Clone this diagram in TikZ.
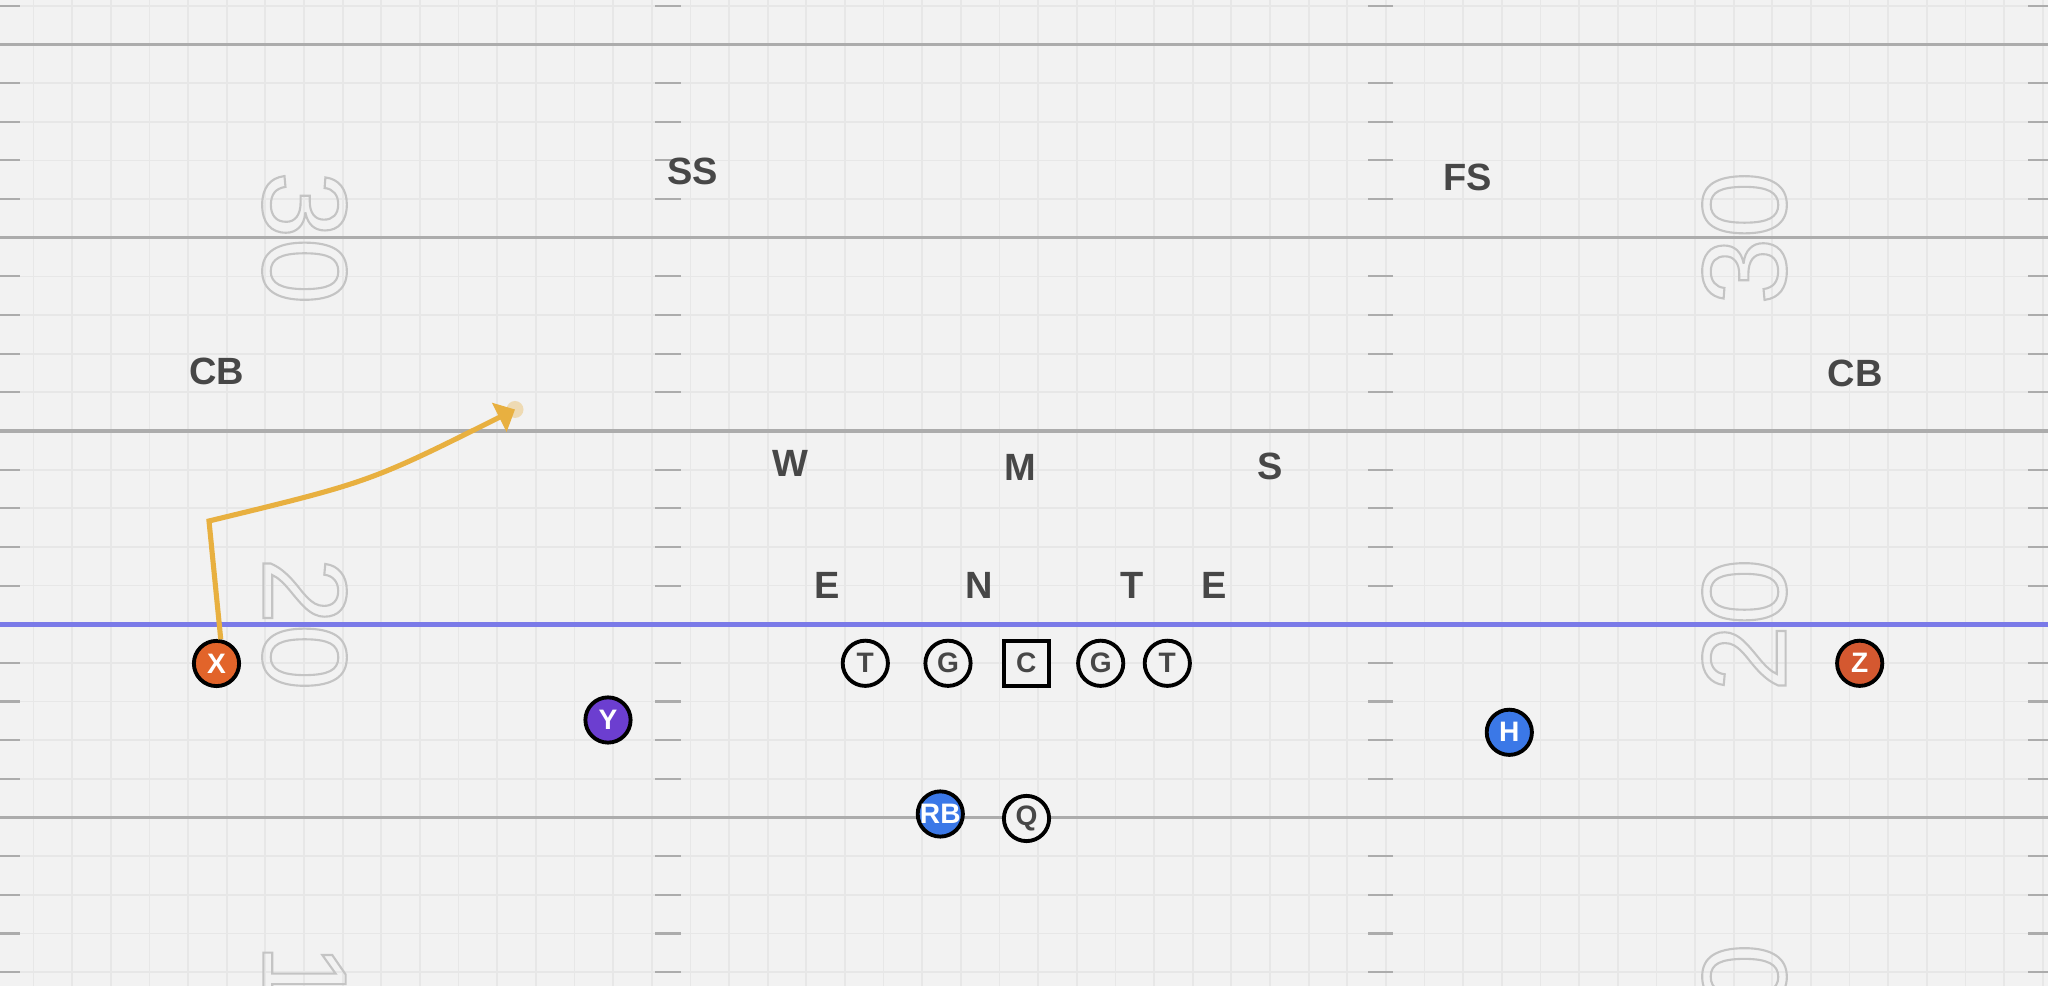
\documentclass[tikz,border=0pt]{standalone}
\usepackage{fontspec}
\setmainfont{Liberation Sans}
\usepackage{tikz}
\usetikzlibrary{arrows.meta}
\definecolor{field}{RGB}{242,242,242}
\definecolor{gridcol}{RGB}{231,231,231}
\definecolor{yardcol}{RGB}{172,172,172}
\definecolor{scrimmage}{RGB}{122,122,232}
\definecolor{labelgray}{RGB}{71,71,71}
\definecolor{routecol}{RGB}{232,176,64}
\definecolor{xorange}{RGB}{226,100,42}
\definecolor{zorange}{RGB}{212,88,48}
\definecolor{ypurple}{RGB}{108,62,208}
\definecolor{hblue}{RGB}{59,120,231}
\newcommand{\outlined}[1]{\special{pdf:literal direct 1 Tr 0.6 w 0.77 0.77 0.77 RG}#1\special{pdf:literal direct 0 Tr}}

\begin{document}
\begin{tikzpicture}[x=0.01cm,y=-0.01cm]
		\tikzstyle{gridln}=[draw=gridcol, line width=0.5pt]
		\tikzstyle{hash}=[draw=yardcol, line width=0.6pt]
		\tikzstyle{yard}=[draw=yardcol, line width=0.9pt]
		\tikzstyle{num}=[inner sep=0pt, font=\fontsize{34}{34}\selectfont]
		\tikzstyle{defender}=[inner sep=0pt, text=labelgray, font=\fontsize{10.8}{11}\selectfont\bfseries]
		\tikzstyle{player}=[circle, draw=black, line width=1.1pt, minimum size=0.452cm, inner sep=0pt, font=\fontsize{8}{8}\selectfont\bfseries]
		\tikzstyle{lineman}=[player, fill=field, text=labelgray]
		\tikzstyle{skill}=[player, text=white]
		\tikzstyle{route}=[draw=routecol, line width=1.45pt, -{Triangle[length=5pt,width=9pt]}]
		
		\useasboundingbox (0,0) rectangle (2048,986);
		\clip (0,0) rectangle (2048,986);
		\fill[field] (0,0) rectangle (2048,986);
		
		\foreach \i in {0,...,52} \draw[gridln] ({33.5+38.64*\i},0) -- ({33.5+38.64*\i},986);
		\foreach \k in {-1,...,24} \draw[gridln] (0,{44.5+38.65*\k}) -- (2048,{44.5+38.65*\k});
		\foreach \k in {-1,...,24}
			\foreach \a/\b in {0/20,655/681,1368/1393,2028/2048}
				\draw[hash] (\a,{44.5+38.65*\k}) -- (\b,{44.5+38.65*\k});
		\foreach \k in {0,5,10,20} \draw[yard] (0,{44.5+38.65*\k}) -- (2048,{44.5+38.65*\k});
		\draw[draw=scrimmage, line width=1.4pt] (0,624.25) -- (2048,624.25);
		
		\node[num, rotate=-90] (l30) at (304.5,238) {\outlined{30}};
		\node[num, rotate=-90] (l20) at (304.5,624) {\outlined{20}};
		\node[num, rotate=-90] (l10) at (304.5,1010) {\outlined{10}};
		\node[num, rotate=90] (r30) at (1744.5,238) {\outlined{30}};
		\node[num, rotate=90] (r20) at (1744.5,625) {\outlined{20}};
		\node[num, rotate=90] (r10) at (1744.5,1010) {\outlined{10}};
		
		\node[defender] (ss) at (692.5,171) {SS};
		\node[defender] (fs) at (1468,177) {FS};
		\node[defender] (cbl) at (217,371) {CB};
		\node[defender] (cbr) at (1855,373.5) {CB};
		\node[defender] (w) at (790,463) {W};
		\node[defender] (m) at (1020.5,467) {M};
		\node[defender] (s) at (1270,466) {S};
		\node[defender] (el) at (827,585.5) {E};
		\node[defender] (n) at (979.5,585.5) {N};
		\node[defender] (t) at (1131.7,585.5) {T};
		\node[defender] (er) at (1214,585.5) {E};
		
		\node[skill, fill=xorange] (x) at (216.5,663.5) {X};
		\node[skill, fill=ypurple] (y) at (608,720) {Y};
		\node[lineman] (lt) at (865.3,663.3) {T};
		\node[lineman] (lg) at (948,663.3) {G};
		\node[lineman, rectangle] (c) at (1026.3,663.3) {C};
		\node[lineman] (rg) at (1100.7,663.3) {G};
		\node[lineman] (rt) at (1167.3,663.3) {T};
		\node[skill, fill=hblue] (rb) at (940.3,814) {RB};
		\node[lineman] (q) at (1026.5,818.5) {Q};
		\node[skill, fill=hblue] (h) at (1509.3,732.3) {H};
		\node[skill, fill=zorange] (z) at (1859.7,663.3) {Z};
		
		\coordinate (cut) at (209,521);
		\node[circle, fill=routecol, opacity=0.35, minimum size=0.17cm, inner sep=0pt] (tip) at (515,409.5) {};
		\draw[route] (x.80) -- (cut) .. controls (370,482) .. (tip.center);
\end{tikzpicture}
\end{document}
